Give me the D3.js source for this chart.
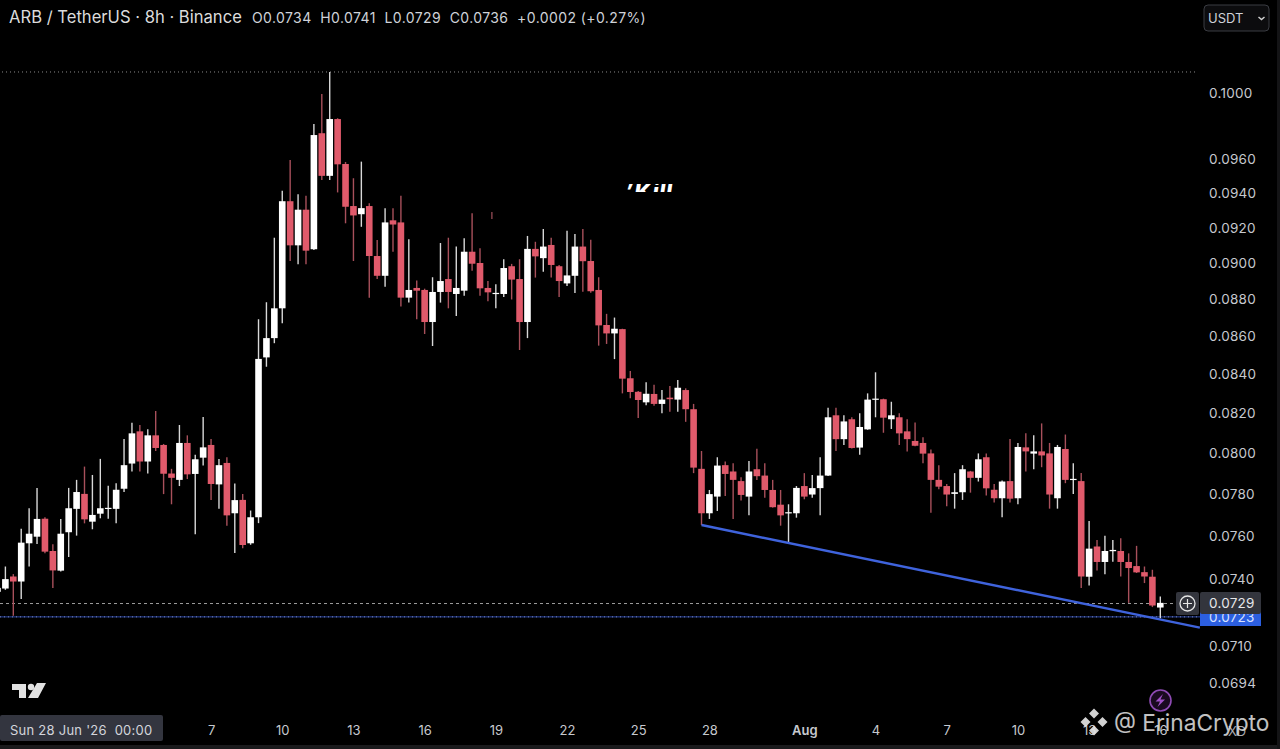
<!DOCTYPE html>
<html><head><meta charset="utf-8">
<style>html,body{margin:0;padding:0;background:#000;overflow:hidden}svg{display:block}text{font-family:Inter,"Noto Sans",sans-serif}</style>
<script src="https://cdn.jsdelivr.net/npm/d3@7"></script>
</head><body><svg id="c" width="1280" height="749"></svg>
<script>
const opens=[.07343,.07358,.07413,.07390,.07567,.07598,.07683,.07531,.07440,.07619,
.07730,.07802,.07669,.07707,.07731,.07730,.07827,.07950,.08110,.07960,
.08090,.08042,.07901,.07870,.08052,.07899,.07979,.08042,.07848,.07953,
.07709,.07773,.07567,.07690,.08490,.08592,.08752,.09352,.09100,.09303,
.09078,.09754,.09500,.09840,.09570,.09324,.09277,.09324,.09040,.08930,
.09242,.09230,.08810,.08863,.08852,.08678,.08841,.08912,.08830,.08848,
.09064,.09001,.08863,.08830,.08830,.08983,.08912,.08678,.09080,.09028,
.09102,.08983,.08888,.08930,.09093,.09012,.08852,.08662,.08617,.08640,
.08381,.08311,.08257,.08300,.08249,.08281,.08271,.08320,.08222,.07924,
.07709,.07789,.07942,.07911,.07864,.07789,.07922,.07891,.07821,.07750,
.07709,.07709,.07840,.07799,.07830,.07891,.08191,.08071,.08171,.08029,
.08120,.08271,.08273,.08171,.08181,.08110,.08062,.08052,.08000,.07870,
.07840,.07802,.07810,.07911,.07880,.07981,.07822,.07781,.07864,.07781,
.08030,.07999,.08010,.08000,.07781,.08022,.07870,.07864,.07412,.07552,
.07480,.07530,.07531,.07480,.07461,.07433,.07412,.07272];
const highs=[.07370,.07459,.07424,.07635,.07733,.07831,.07690,.07563,.07682,.07831,
.07870,.07935,.07894,.07973,.07842,.07854,.08072,.08153,.08142,.08120,
.08213,.08047,.07924,.08142,.08090,.07993,.08182,.08072,.07973,.07981,
.07852,.07802,.07722,.08693,.08785,.09143,.09413,.09594,.09392,.09384,
.09810,.09994,.10131,.09845,.09582,.09486,.09584,.09340,.09130,.09311,
.09311,.09384,.09134,.08904,.08859,.08922,.09113,.09143,.09093,.09140,
.09283,.09084,.08901,.08883,.09022,.08996,.09022,.09153,.09120,.09193,
.09143,.08990,.09183,.09164,.09193,.09132,.08922,.08722,.08702,.08642,
.08419,.08315,.08360,.08348,.08320,.08341,.08372,.08329,.08249,.08012,
.07821,.07981,.07960,.07952,.07883,.07963,.08023,.07952,.07870,.07821,
.07752,.07840,.07903,.07894,.07981,.08230,.08230,.08191,.08181,.08201,
.08303,.08412,.08276,.08260,.08201,.08171,.08155,.08081,.08020,.07942,
.07850,.07903,.07942,.07914,.08000,.08000,.07850,.07867,.08072,.08052,
.08100,.08090,.08150,.08052,.08042,.08094,.07952,.07903,.07672,.07583,
.07602,.07583,.07591,.07520,.07555,.07459,.07444,.07322];
const lows=[.07334,.07352,.07235,.07311,.07459,.07564,.07520,.07360,.07436,.07503,
.07603,.07661,.07633,.07685,.07683,.07661,.07811,.07911,.07911,.07901,
.08012,.07801,.07752,.07840,.07874,.07610,.07940,.07773,.07731,.07650,
.07522,.07544,.07560,.07662,.08441,.08565,.08671,.09012,.08994,.08994,
.09074,.09476,.09476,.09403,.09225,.09012,.09205,.08810,.08912,.08870,
.09064,.08762,.08783,.08693,.08614,.08550,.08783,.08752,.08711,.08820,
.08958,.08820,.08790,.08752,.08813,.08800,.08529,.08592,.08920,.08952,
.08920,.08813,.08874,.08835,.08842,.08837,.08552,.08561,.08481,.08303,
.08278,.08177,.08242,.08239,.08201,.08209,.08209,.08158,.07903,.07653,
.07682,.07720,.07792,.07682,.07770,.07699,.07870,.07784,.07736,.07650,
.07564,.07688,.07776,.07784,.07699,.07889,.08012,.08042,.08025,.07993,
.08118,.08181,.08103,.08122,.08042,.08009,.08036,.07952,.07712,.07824,
.07743,.07731,.07773,.07808,.07862,.07794,.07761,.07690,.07761,.07752,
.07911,.07922,.07932,.07731,.07731,.07854,.07801,.07360,.07372,.07441,
.07423,.07481,.07413,.07293,.07429,.07383,.07274,.07224];
const closes=[.07361,.07401,.07390,.07570,.07612,.07682,.07528,.07441,.07612,.07733,
.07811,.07680,.07701,.07733,.07735,.07822,.07942,.08100,.07960,.08090,
.08027,.07900,.07880,.08052,.07897,.07971,.08030,.07850,.07942,.07699,
.07772,.07559,.07690,.08482,.08592,.08752,.09352,.09100,.09303,.09070,
.09743,.09500,.09840,.09568,.09320,.09270,.09312,.09040,.08930,.09230,
.09218,.08810,.08852,.08848,.08678,.08841,.08901,.08841,.08863,.09064,
.08997,.08861,.08839,.08836,.08973,.08909,.08678,.09080,.09038,.09093,
.08990,.08901,.08932,.09093,.09011,.08845,.08660,.08617,.08642,.08379,
.08310,.08269,.08301,.08249,.08271,.08273,.08332,.08222,.07930,.07709,
.07801,.07940,.07899,.07870,.07797,.07911,.07888,.07821,.07738,.07699,
.07714,.07831,.07789,.07830,.07891,.08181,.08071,.08160,.08027,.08132,
.08271,.08276,.08179,.08191,.08100,.08071,.08038,.07999,.07870,.07837,
.07799,.07810,.07922,.07880,.07971,.07829,.07781,.07862,.07779,.08032,
.08010,.08010,.07990,.07799,.08032,.07870,.07875,.07413,.07542,.07480,
.07531,.07536,.07480,.07452,.07432,.07413,.07281,.07293];
const priceTicks=[0.1,0.096,0.094,0.092,0.09,0.088,0.086,0.084,0.082,0.08,0.078,0.076,0.074,0.071,0.0694];
const timeTickIndex=[27,36,45,54,63,72,81,90,102,111,120,129,138,147];
const timeTickLabels=["7","10","13","16","19","22","25","28","Aug","4","7","10","13","16"];
const trendIndex=[89,152];
const trendPrice=[0.07653,0.07182];
const highLevel=0.10131, lastLevel=0.0729, supportLevel=0.0723;
const strayIndex=62.5, strayTop=0.0929, strayBottom=0.0925;

const svg=d3.select("#c");
const x=d3.scaleLinear().domain([0,147]).range([-2.52,1160.3]);
const y=d3.scaleLog().domain([0.1,0.0694]).range([93,683]);
const UP="#ffffff",DOWN="#e05a6b",UPW="#d8d8d8",DOWNW="#a8505b";
const candles=opens.map((o,k)=>({k,o,h:highs[k],l:lows[k],c:closes[k],up:closes[k]>=o}));

// horizontal levels
svg.append("line").attr("x1",2).attr("x2",1197).attr("y1",y(highLevel)).attr("y2",y(highLevel))
 .attr("stroke","#8a8a8a").attr("stroke-width",1).attr("stroke-dasharray","1 3");
svg.append("line").attr("x1",0).attr("x2",1200).attr("y1",y(lastLevel)).attr("y2",y(lastLevel))
 .attr("stroke","#9c9c9c").attr("stroke-width",1).attr("stroke-dasharray","3 3");
svg.append("line").attr("x1",0).attr("x2",1200).attr("y1",y(supportLevel)).attr("y2",y(supportLevel))
 .attr("stroke","#2a45a8").attr("stroke-width",1);
svg.append("line").attr("x1",0).attr("x2",1200).attr("y1",y(supportLevel)).attr("y2",y(supportLevel))
 .attr("stroke","#c4cdf0").attr("stroke-width",1).attr("stroke-dasharray","1 3").attr("opacity",.6);

// clipped leftover fragment
const clip=svg.append("clipPath").attr("id","kc");
clip.append("rect").attr("x",620).attr("y",184).attr("width",56).attr("height",8);
svg.append("text").attr("clip-path","url(#kc)").attr("x",625).attr("y",201).attr("fill","#fff")
 .attr("font-size",25).attr("font-weight",700).attr("font-style","italic").text("\u2019Kill");

// small leftover wick tip
svg.append("line").attr("x1",x(strayIndex)).attr("x2",x(strayIndex)).attr("y1",y(strayTop)).attr("y2",y(strayBottom))
 .attr("stroke","#8a4650").attr("stroke-width",1.4);

// candles
const g=svg.append("g");
g.selectAll("line.w").data(candles).join("line").attr("class","w")
 .attr("x1",d=>x(d.k)).attr("x2",d=>x(d.k)).attr("y1",d=>y(d.h)).attr("y2",d=>y(d.l))
 .attr("stroke",d=>d.up?UPW:DOWNW).attr("stroke-width",1.4);
g.selectAll("rect.b").data(candles).join("rect").attr("class","b")
 .attr("x",d=>x(d.k)-3.3).attr("width",6.6)
 .attr("y",d=>y(Math.max(d.o,d.c)))
 .attr("height",d=>Math.max(1.2,Math.abs(y(d.o)-y(d.c))))
 .attr("fill",d=>d.up?UP:DOWN);

// trend line
svg.append("line").attr("x1",x(trendIndex[0])).attr("x2",x(trendIndex[1])).attr("y1",y(trendPrice[0])).attr("y2",y(trendPrice[1]))
 .attr("stroke","#3f63dc").attr("stroke-width",2.4);

// price axis
const yAxis=d3.axisRight(y).tickValues(priceTicks).tickSize(0).tickPadding(0).tickFormat(d3.format(".4f"));
const ya=svg.append("g").attr("transform","translate(1209,0)").call(yAxis);
ya.select(".domain").remove();
ya.selectAll("text").attr("fill","#c6c9cf").attr("font-size",13.5).style("font-family","Inter,sans-serif").attr("letter-spacing",.25);

// time axis
const labelOf=new Map(timeTickIndex.map((v,i)=>[v,timeTickLabels[i]]));
const xAxis=d3.axisBottom(x).tickValues(timeTickIndex).tickSize(0).tickPadding(0).tickFormat(d=>labelOf.get(d));
const xa=svg.append("g").attr("transform","translate(0,726)").call(xAxis);
xa.select(".domain").remove();
xa.selectAll("text").attr("fill","#c6c9cf").attr("font-size",13).style("font-family","Inter,sans-serif")
 .attr("font-weight",d=>d===102?600:400);
svg.append("text").attr("x",1237).attr("y",736).attr("text-anchor","middle").attr("fill","#a8aab0").attr("font-size",13).text("XD");

// price labels
svg.append("rect").attr("x",1200).attr("y",611).attr("width",61).attr("height",15).attr("fill","#2c5fe0");
svg.append("text").attr("x",1209).attr("y",622).attr("fill","#d8e2ff").attr("font-size",13.5).attr("letter-spacing",.25).text("0.0723");
svg.append("rect").attr("x",1176).attr("y",592).attr("width",23).attr("height",23).attr("rx",2).attr("fill","#33353d");
svg.append("rect").attr("x",1200).attr("y",592).attr("width",61).attr("height",22).attr("rx",2).attr("fill","#33353d");
svg.append("text").attr("x",1209).attr("y",608).attr("fill","#e6e7ea").attr("font-size",13.5).attr("letter-spacing",.25).text("0.0729");
svg.append("circle").attr("cx",1187.5).attr("cy",603.5).attr("r",7.5).attr("fill","none").attr("stroke","#e6e6e6").attr("stroke-width",1.3);
svg.append("path").attr("d","M1183 603.5H1192M1187.5 599V608").attr("stroke","#e6e6e6").attr("stroke-width",1.2);

// header
svg.append("text").attr("x",9).attr("y",23).attr("fill","#dcdcdc").attr("font-size",16.6).text("ARB / TetherUS · 8h · Binance");
svg.append("text").attr("x",252).attr("y",22.5).attr("fill","#cfd2d8").attr("font-size",14).attr("letter-spacing",.4).attr("xml:space","preserve")
 .text("O0.0734  H0.0741  L0.0729  C0.0736  +0.0002 (+0.27%)");

// USDT button
svg.append("rect").attr("x",1204).attr("y",5).attr("width",65).attr("height",26).attr("rx",4).attr("fill","#0c0c0e").attr("stroke","#3a3c42");
svg.append("text").attr("x",1208).attr("y",23).attr("fill","#cfd2d8").attr("font-size",13).text("USDT");
svg.append("path").attr("d","M1258.5 17L1261.5 19.5L1264.5 17").attr("fill","none").attr("stroke","#d0d0d0").attr("stroke-width",1.5);

// TradingView mark
const tv=svg.append("g").attr("fill","#e2e2e2");
tv.append("path").attr("d","M12 684H26V698H19V690H12Z");
tv.append("circle").attr("cx",31).attr("cy",687).attr("r",3.2);
tv.append("path").attr("d","M37 683H46L38 698H28Z");

// crosshair time label
svg.append("rect").attr("x",0).attr("y",715).attr("width",163).attr("height",26).attr("rx",2).attr("fill","#33353f");
svg.append("text").attr("x",10).attr("y",735).attr("fill","#d4d6dc").attr("font-size",13).attr("letter-spacing",.25).attr("xml:space","preserve").text("Sun 28 Jun '26  00:00");
svg.append("rect").attr("x",0).attr("y",745).attr("width",1280).attr("height",4).attr("fill","#1a1a1c");
svg.append("rect").attr("x",1277).attr("y",0).attr("width",3).attr("height",749).attr("fill","#141416");

// lightning
svg.append("circle").attr("cx",1160.5).attr("cy",700.5).attr("r",10.5).attr("fill","#1a0a20").attr("stroke","#8f4bb5").attr("stroke-width",1.6);
svg.append("path").attr("d","M1163 694L1155.5 701.5H1160L1157.5 707L1165 699.5H1160.5Z").attr("fill","#a050c8");

// watermark
const wm=svg.append("g").attr("fill","#e4e4e4").attr("opacity",.92);
[[0,-8.5],[-8.5,0],[0,8.5],[8.5,0]].forEach(([dx,dy])=>{
 wm.append("path").attr("transform",`translate(${1094+dx},${722+dy})`).attr("d","M0 -5L5 0L0 5L-5 0Z");
});
wm.append("path").attr("d","M1094 719L1097 722L1094 725L1091 722Z").attr("fill","#000");
wm.append("path").attr("d","M1083 722L1085 720L1087 722L1085 724Z");
wm.append("path").attr("d","M1101 722L1103 720L1105 722L1103 724Z");
svg.append("text").attr("x",1114).attr("y",731).attr("fill","#e4e4e4").attr("font-size",22.7).attr("opacity",.85).text("@ ErinaCrypto");
</script></body></html>
